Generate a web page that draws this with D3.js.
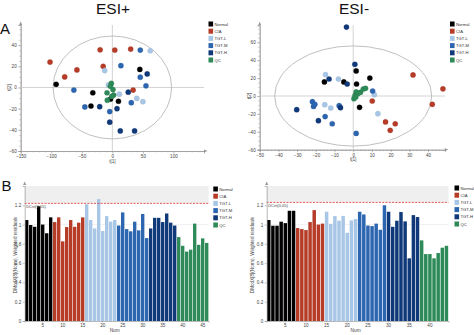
<!DOCTYPE html>
<html>
<head>
<meta charset="utf-8">
<script src="https://cdn.jsdelivr.net/npm/d3@7"></script>
<style>
  body { margin: 0; background: #fff; }
  svg { display: block; font-family: "Liberation Sans", Arial, sans-serif; }
  .tick text { fill: #444; }
</style>
</head>
<body>
<svg id="chart" width="474" height="335"></svg>
<script>

var groups = ["Normal", "CIA", "TGT-L", "TGT-M", "TGT-H", "QC"];
var groupColors = ["#000000", "#b63c27", "#a8c6e6", "#2c66b0", "#10397a", "#2e8a58"];

// PCA scores, rows are [group, t1, t2]
var esiPosScores = [
  ["Normal", -92, 3], ["Normal", -32, -5], ["Normal", -35, -17.5], ["Normal", -3, -11], ["Normal", 10, -13], ["Normal", 45, 17],
  ["CIA", -102, 24], ["CIA", -78, 10], ["CIA", -58, 16.6], ["CIA", -20, 35.6], ["CIA", 4, 35.3], ["CIA", 30, 36.3], ["CIA", -15, 20], ["CIA", 34, -2.5],
  ["TGT-L", 62, 34.7], ["TGT-L", -12.5, 16], ["TGT-L", -6.5, 2.5], ["TGT-L", 11.4, -6.3], ["TGT-L", 40, -10.3], ["TGT-L", 50, -13.4],
  ["TGT-M", 45.7, 35.3], ["TGT-M", 14, 20.6], ["TGT-M", 45.7, 9.7], ["TGT-M", 55, 1.6], ["TGT-M", -63, -2.5], ["TGT-M", -45, -18.4], ["TGT-M", 31, -14.4], ["TGT-M", -4.3, -22.8],
  ["TGT-H", 57, 12.8], ["TGT-H", 26, -4.4], ["TGT-H", -20.7, -18.1], ["TGT-H", 7.6, -20], ["TGT-H", -4.3, -32.8], ["TGT-H", 13, -41], ["TGT-H", 36.4, -41],
  ["QC", -1.6, 3.8], ["QC", -3.3, 1.2], ["QC", 1, -2], ["QC", -8.7, -5], ["QC", 2.2, -7.2], ["QC", -8.2, -12], ["QC", -1, -8.5]
];

var esiNegScores = [
  ["Normal", -15.4, 15.7], ["Normal", -5, 15.7], ["Normal", 1.6, 28], ["Normal", 1.8, 13.4], ["Normal", 8.9, 20], ["Normal", 3.4, -12.7],
  ["CIA", 32, 23.5], ["CIA", 48, 8], ["CIA", 42.3, -9.3], ["CIA", 10.2, -5.6], ["CIA", 17.3, -29], ["CIA", 22.5, -31], ["CIA", 19.8, -38.4],
  ["TGT-L", -14.8, 23.9], ["TGT-L", -7.9, 19], ["TGT-L", -15.2, -9.7], ["TGT-L", -12, -13.4], ["TGT-L", 13.2, -19.8], ["TGT-L", 11.3, 1.5],
  ["TGT-M", -21.8, -6.3], ["TGT-M", -21.2, -11.6], ["TGT-M", -20.5, -9.3], ["TGT-M", -15, -23], ["TGT-M", -11.2, -31], ["TGT-M", 1.6, -41.8], ["TGT-M", 10.4, 5.6], ["TGT-M", -7.5, -10.8],
  ["TGT-H", -3.6, 77], ["TGT-H", 0.9, 35.4], ["TGT-H", -12.9, 19], ["TGT-H", -3.2, 13.4], ["TGT-H", -30.2, -15.3], ["TGT-H", -18.6, -27.6], ["TGT-H", -6.8, -13],
  ["QC", 0.4, -3], ["QC", 1, 0.7], ["QC", 1.6, 4.5], ["QC", 3.9, 4.1], ["QC", 5.4, 7.8], ["QC", 6.6, 8.6], ["QC", 2.5, 2.6], ["QC", 1.4, -1.1]
];

// DModX per observation, and how many observations each group has
var esiPosDModX = [1.047, 0.995, 0.977, 1.19, 1.0, 0.91, 1.075,
  1.026, 1.075, 0.826, 0.974, 1.047, 0.977, 1.02, 1.075,
  1.21, 1.047, 0.96, 1.264, 0.933, 1.088, 1.03, 1.047,
  0.99, 1.126, 0.953, 0.93, 1.03, 0.94, 1.11, 0.86,
  0.96, 1.07, 1.07, 1.026, 1.115, 1.02, 0.99,
  0.87, 0.78, 0.72, 0.74, 1.01, 0.79, 0.857, 0.81];
var esiPosGroupSizes = [7, 8, 8, 8, 7, 8];
var esiPosDcrit = 1.22;

var esiNegDModX = [1.047, 0.988, 0.988, 1.03, 1.015, 1.143, 1.143,
  0.964, 0.953, 0.943, 1.026, 1.15, 1.0, 1.01,
  1.133, 1.008, 1.088, 1.04, 1.09, 0.915, 1.043, 1.057,
  1.133, 1.105, 0.99, 0.984, 1.01, 0.946, 1.2,
  1.133, 0.977, 1.04, 1.13, 1.033, 0.65, 1.098, 1.078,
  0.836, 0.694, 0.694, 0.65, 0.705, 0.76, 0.78];
var esiNegGroupSizes = [7, 7, 8, 7, 8, 7];
var esiNegDcrit = 1.23;

var barTicks = [5, 10, 15, 20, 25, 30, 35, 40, 45];
var barYTicks = [0, 0.2, 0.4, 0.6, 0.8, 1, 1.2];

var svg = d3.select("#chart");
var color = d3.scaleOrdinal().domain(groups).range(groupColors);


function legend(x0, y0, step) {
  var g = svg.append("g").attr("transform", "translate(" + x0 + "," + y0 + ")");
  groups.forEach(function(name, i) {
    g.append("rect")
     .attr("x", 0).attr("y", i * step - 2.5)
     .attr("width", 4.6).attr("height", 5)
     .attr("fill", color(name));
    g.append("text")
     .attr("x", 6).attr("y", i * step + 1.5)
     .attr("font-size", 4.2).attr("fill", "#333")
     .text(name);
  });
}


// small arrow head at the end of an axis line
function arrow(px, py, dir) {
  var p = dir == "right" ? [[px, py - 1.6], [px + 3.5, py], [px, py + 1.6]]
                         : [[px - 1.6, py], [px, py - 3.5], [px + 1.6, py]];
  svg.append("path").attr("d", d3.line()(p) + "Z").attr("fill", "#999");
}


function styleAxis(g) {
  g.select(".domain").attr("stroke", "#999").attr("stroke-width", 0.7);
  g.selectAll(".tick line").attr("stroke", "#999").attr("stroke-width", 0.6);
  g.selectAll(".tick text").attr("font-size", 4.6);
}


function drawScatter(cfg) {

  var x = d3.scaleLinear().domain(cfg.xDomain).range(cfg.xRange),
      y = d3.scaleLinear().domain(cfg.yDomain).range(cfg.yRange);

  var bottom = y(cfg.yDomain[0]),
      left = x(cfg.xDomain[0]);

  // minor ticks first, so the labelled ones sit on top
  svg.append("g")
     .attr("transform", "translate(0," + bottom + ")")
     .call(d3.axisBottom(x).tickValues(d3.range(cfg.xDomain[0], cfg.xDomain[1], cfg.xMinor)).tickSize(1.3).tickFormat(""))
     .call(styleAxis);
  svg.append("g")
     .attr("transform", "translate(" + left + ",0)")
     .call(d3.axisLeft(y).tickValues(d3.range(cfg.yDomain[0], cfg.yDomain[1], cfg.yMinor)).tickSize(1.3).tickFormat(""))
     .call(styleAxis);

  svg.append("g")
     .attr("transform", "translate(0," + bottom + ")")
     .call(d3.axisBottom(x).tickValues(cfg.xTicks).tickSize(2.5).tickPadding(1.5))
     .call(styleAxis);
  svg.append("g")
     .attr("transform", "translate(" + left + ",0)")
     .call(d3.axisLeft(y).tickValues(cfg.yTicks).tickSize(2.5).tickPadding(1.5))
     .call(styleAxis);

  arrow(x(cfg.xDomain[1]), bottom, "right");
  arrow(left, y(cfg.yDomain[1]), "up");

  // zero lines
  svg.append("line")
     .attr("x1", left).attr("x2", x(cfg.xDomain[1]))
     .attr("y1", y(0)).attr("y2", y(0))
     .attr("stroke", "#c8c8c8").attr("stroke-width", 0.8);
  svg.append("line")
     .attr("x1", x(0)).attr("x2", x(0))
     .attr("y1", y(cfg.yDomain[1])).attr("y2", bottom)
     .attr("stroke", "#c8c8c8").attr("stroke-width", 0.8);

  // hotelling T2 ellipse
  svg.append("ellipse")
     .attr("cx", x(0)).attr("cy", y(0))
     .attr("rx", x(cfg.ellipse[0]) - x(0))
     .attr("ry", y(0) - y(cfg.ellipse[1]))
     .attr("fill", "none")
     .attr("stroke", "#b0b0b0").attr("stroke-width", 0.8);

  svg.append("g").selectAll("circle")
     .data(cfg.data)
     .join("circle")
     .attr("cx", function(d) { return x(d[1]); })
     .attr("cy", function(d) { return y(d[2]); })
     .attr("r", 2.6)
     .attr("fill", function(d) { return color(d[0]); })
     .attr("stroke", function(d) { return d3.color(color(d[0])).darker(0.4); })
     .attr("stroke-width", 0.3);

  svg.append("text")
     .attr("x", x(0)).attr("y", bottom + 11.5)
     .attr("text-anchor", "middle").attr("font-size", 4.6).attr("fill", "#444")
     .text("t[1]");
  svg.append("text")
     .attr("transform", "translate(" + cfg.yLabelX + "," + y(0) + ") rotate(-90)")
     .attr("text-anchor", "middle").attr("font-size", 4.6).attr("fill", "#444")
     .text("t[2]");

  legend(cfg.legend[0], cfg.legend[1], 7.2);
}


function drawBars(cfg) {

  var n = cfg.values.length;
  var x = d3.scaleBand().domain(d3.range(1, n + 1)).range(cfg.xRange).paddingInner(0.16).paddingOuter(0.08),
      y = d3.scaleLinear().domain([0, 1.4]).range([321, 186]);

  // group of each observation from the running group sizes
  var owner = [];
  cfg.sizes.forEach(function(s, i) {
    for (var j = 0; j < s; j++) owner.push(groups[i]);
  });

  // shaded zone above the critical distance
  svg.append("rect")
     .attr("x", cfg.xRange[0]).attr("y", y(1.4))
     .attr("width", cfg.xRange[1] - cfg.xRange[0])
     .attr("height", y(cfg.dcrit) - y(1.4))
     .attr("fill", "#efefef");

  svg.append("line")
     .attr("x1", cfg.xRange[0]).attr("x2", cfg.xRange[1])
     .attr("y1", y(1)).attr("y2", y(1))
     .attr("stroke", "#e4e4e4").attr("stroke-width", 0.5);

  svg.append("g").selectAll("rect")
     .data(cfg.values)
     .join("rect")
     .attr("x", function(d, i) { return x(i + 1); })
     .attr("y", function(d) { return y(d); })
     .attr("width", x.bandwidth())
     .attr("height", function(d) { return y(0) - y(d); })
     .attr("fill", function(d, i) { return color(owner[i]); });

  svg.append("line")
     .attr("x1", cfg.xRange[0]).attr("x2", cfg.xRange[1])
     .attr("y1", y(cfg.dcrit)).attr("y2", y(cfg.dcrit))
     .attr("stroke", "#e0302c").attr("stroke-width", 0.8)
     .attr("stroke-dasharray", "2,1.3");

  svg.append("text")
     .attr("x", cfg.xRange[0] + 1.5).attr("y", y(cfg.dcrit) + 5)
     .attr("font-size", 4).attr("fill", "#444")
     .text("DCrit(0.05)");

  svg.append("g")
     .attr("transform", "translate(0,321)")
     .call(d3.axisBottom(x).tickValues(barTicks.filter(function(t) { return t <= n; })).tickSize(1.5).tickPadding(1.5))
     .call(styleAxis);
  svg.append("g")
     .attr("transform", "translate(" + cfg.xRange[0] + ",0)")
     .call(d3.axisLeft(y).tickValues(barYTicks).tickFormat(d3.format("~g")).tickSize(2).tickPadding(1.5))
     .call(styleAxis);
  arrow(cfg.xRange[0], y(1.4) - 1, "up");

  svg.append("text")
     .attr("x", (cfg.xRange[0] + cfg.xRange[1]) / 2 - 2).attr("y", 332)
     .attr("text-anchor", "middle").attr("font-size", 4.8).attr("fill", "#444")
     .text("Num");
  svg.append("text")
     .attr("transform", "translate(" + cfg.yLabelX + ",255) rotate(-90)")
     .attr("text-anchor", "middle").attr("font-size", 4.6).attr("fill", "#444")
     .text("DModX[8](Norm), Weighted residuals");

  legend(cfg.legend[0], cfg.legend[1], 7.2);
}


drawScatter({
  data: esiPosScores,
  xDomain: [-150, 150], xRange: [20.7, 204],
  yDomain: [-60, 59], yRange: [151, 25],
  xTicks: [-150, -100, -50, 0, 50, 100], xMinor: 10,
  yTicks: [-60, -40, -20, 0, 20, 40], yMinor: 5,
  ellipse: [97, 48.6],
  yLabelX: 10.5,
  legend: [208.5, 24]
});

drawScatter({
  data: esiNegScores,
  xDomain: [-50, 49], xRange: [259.7, 444.8],
  yDomain: [-60, 79], yRange: [149.7, 25.3],
  xTicks: [-50, -40, -30, -20, -10, 0, 10, 20, 30, 40], xMinor: 2,
  yTicks: [-60, -40, -20, 0, 20, 40, 60], yMinor: 5,
  ellipse: [42, 56],
  yLabelX: 250.5,
  legend: [450, 24]
});

drawBars({
  values: esiPosDModX, sizes: esiPosGroupSizes, dcrit: esiPosDcrit,
  xRange: [24.7, 208.7], yLabelX: 16.5,
  legend: [213.3, 189]
});

drawBars({
  values: esiNegDModX, sizes: esiNegGroupSizes, dcrit: esiNegDcrit,
  xRange: [266.7, 448.5], yLabelX: 254,
  legend: [454.5, 188]
});

// titles and panel letters
svg.append("text").attr("x", 113).attr("y", 13.5).attr("text-anchor", "middle")
   .attr("font-size", 15.5).attr("fill", "#111").text("ESI+");
svg.append("text").attr("x", 354).attr("y", 13.5).attr("text-anchor", "middle")
   .attr("font-size", 15.5).attr("fill", "#111").text("ESI-");
svg.append("text").attr("x", 0).attr("y", 33.5)
   .attr("font-size", 15).attr("fill", "#111").text("A");
svg.append("text").attr("x", 1.5).attr("y", 190.5)
   .attr("font-size", 15).attr("fill", "#111").text("B");

</script>
</body>
</html>
